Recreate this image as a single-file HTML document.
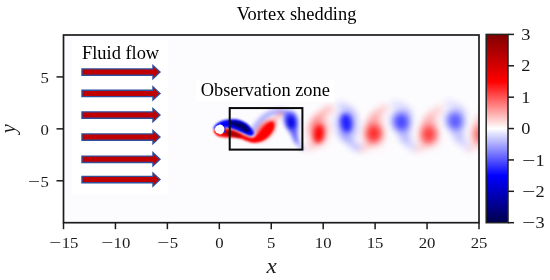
<!DOCTYPE html>
<html><head><meta charset="utf-8"><title>Vortex shedding</title>
<style>
html,body{margin:0;padding:0;background:#fff;}
svg{display:block}
text{font-family:"Liberation Serif","DejaVu Serif",serif;fill:#1a1a1a}
.tk{font-size:15.5px}
.ck{font-size:16px}
.lb{font-size:18.4px;fill:#000}
.ax{font-size:21px;font-style:italic}
</style></head><body>
<svg width="550" height="280" viewBox="0 0 550 280">
<defs>
<filter id="b0" filterUnits="userSpaceOnUse" x="-300" y="-300" width="1200" height="900"><feGaussianBlur stdDeviation="0.5"/></filter>
<filter id="b1" filterUnits="userSpaceOnUse" x="-300" y="-300" width="1200" height="900"><feGaussianBlur stdDeviation="0.9"/></filter>
<filter id="b2" filterUnits="userSpaceOnUse" x="-300" y="-300" width="1200" height="900"><feGaussianBlur stdDeviation="2.2"/></filter>
<filter id="b3" filterUnits="userSpaceOnUse" x="-300" y="-300" width="1200" height="900"><feGaussianBlur stdDeviation="3.5"/></filter>
<filter id="b25" filterUnits="userSpaceOnUse" x="-300" y="-300" width="1200" height="900"><feGaussianBlur stdDeviation="2.6"/></filter>
<filter id="b35" filterUnits="userSpaceOnUse" x="-300" y="-300" width="1200" height="900"><feGaussianBlur stdDeviation="3.6"/></filter>
<filter id="b4" filterUnits="userSpaceOnUse" x="-300" y="-300" width="1200" height="900"><feGaussianBlur stdDeviation="4.5"/></filter>
<clipPath id="rh"><rect x="219.3" y="120" width="10" height="20"/></clipPath>
<clipPath id="ax"><rect x="63.5" y="35.0" width="415.5" height="187.7"/></clipPath>
<linearGradient id="cb" x1="0" y1="0" x2="0" y2="1">
<stop offset="0" stop-color="#800000"/><stop offset="0.25" stop-color="#ff0000"/>
<stop offset="0.5" stop-color="#ffffff"/><stop offset="0.75" stop-color="#0000ff"/>
<stop offset="1" stop-color="#00004c"/></linearGradient>
</defs>
<rect width="550" height="280" fill="#ffffff"/>
<rect x="63.5" y="35.0" width="415.5" height="187.7" fill="#fcfbfe"/>
<g clip-path="url(#ax)">
<path d="M213.9 129.0 C212.8 128.3 214.5 126.1 215.4 125.0 C216.3 123.9 217.7 123.0 219.1 122.2 C220.5 121.4 222.3 120.8 224.0 120.3 C225.7 119.8 227.2 119.6 229.0 119.4 C230.8 119.2 233.2 119.2 235.0 119.3 C236.8 119.4 238.2 119.6 240.0 120.2 C241.8 120.8 244.1 121.8 246.0 123.1 C247.9 124.4 250.1 126.5 251.4 128.2 C252.7 129.9 254.2 132.2 254.0 133.5 C253.8 134.8 252.0 135.9 250.5 136.0 C249.0 136.1 246.9 134.8 245.0 134.0 C243.1 133.2 241.2 132.2 239.0 131.4 C236.8 130.6 234.2 129.6 232.0 129.0 C229.8 128.4 227.3 127.6 225.6 127.6 C223.9 127.6 223.9 128.8 222.0 129.0 C220.1 129.2 215.0 129.7 213.9 129.0Z" fill="#0000ff" opacity="1" filter="url(#b1)"/>
<path d="M229.0 121.8 C229.7 121.1 235.3 121.3 238.0 121.8 C240.7 122.2 243.0 123.1 245.0 124.5 C247.0 125.9 249.4 128.7 249.8 130.0 C250.2 131.3 249.0 132.6 247.5 132.5 C246.0 132.4 243.2 130.3 241.0 129.2 C238.8 128.1 236.0 127.2 234.0 126.0 C232.0 124.8 228.3 122.5 229.0 121.8Z" fill="#000068" opacity="1" filter="url(#b1)"/>
<path d="M213.9 130.0 C212.8 130.8 214.5 132.9 215.4 134.0 C216.3 135.1 217.5 135.9 219.1 136.5 C220.7 137.1 223.3 137.2 225.0 137.4 C226.7 137.6 227.3 137.4 229.0 137.4 C230.7 137.4 233.2 137.4 235.0 137.6 C236.8 137.8 238.5 138.2 240.0 138.6 C241.5 139.0 241.8 139.2 244.0 139.9 C246.2 140.6 250.3 142.5 253.0 142.8 C255.7 143.1 257.6 142.7 260.0 141.8 C262.4 140.9 265.5 138.9 267.5 137.2 C269.5 135.5 270.9 133.6 272.0 131.8 C273.1 130.0 273.9 128.0 274.0 126.4 C274.1 124.8 273.6 122.4 272.5 122.0 C271.4 121.6 269.1 122.8 267.5 123.8 C265.9 124.8 264.5 126.6 263.0 128.2 C261.5 129.8 260.3 132.0 258.6 133.6 C256.9 135.2 255.3 137.3 253.0 137.6 C250.7 137.9 247.3 136.3 245.0 135.4 C242.7 134.5 241.2 133.3 239.0 132.4 C236.8 131.5 234.2 130.4 232.0 129.8 C229.8 129.2 227.7 128.7 226.0 128.6 C224.3 128.5 224.0 129.3 222.0 129.5 C220.0 129.7 215.0 129.2 213.9 130.0Z" fill="#ff0000" opacity="1" filter="url(#b1)"/>
<path d="M225.5 131.2 C226.3 130.6 229.1 130.8 231.0 131.2 C232.9 131.6 235.2 132.5 237.0 133.4 C238.8 134.3 241.8 136.0 242.0 136.6 C242.2 137.2 239.8 137.3 238.0 137.2 C236.2 137.1 233.0 136.2 231.0 135.8 C229.0 135.4 226.9 135.3 226.0 134.5 C225.1 133.7 224.7 131.8 225.5 131.2Z" fill="#980000" opacity="0.9" filter="url(#b1)"/>
<path d="M252 133 C256 125 262 117.5 269 114 C275 111 282 110.5 288 113" fill="none" stroke="#0000ff" stroke-width="5" stroke-linecap="butt" opacity="0.33" filter="url(#b2)"/>
<path d="M273 124 C275 119 278 115 283 112" fill="none" stroke="#ff0000" stroke-width="5" stroke-linecap="butt" opacity="0.22" filter="url(#b2)"/>
<ellipse cx="265.5" cy="130.5" rx="12.5" ry="6.8" transform="rotate(-48 265.5 130.5)" fill="#ff0000" opacity="0.75" filter="url(#b2)"/>
<path d="M284.5 114.0 C285.4 112.5 287.4 111.8 289.0 111.5 C290.6 111.2 292.6 111.4 294.0 112.5 C295.4 113.6 296.8 115.9 297.5 118.0 C298.2 120.1 298.0 122.7 298.0 125.0 C298.0 127.3 297.5 129.7 297.5 132.0 C297.5 134.3 297.9 137.1 297.8 139.0 C297.7 140.9 297.5 143.0 297.0 143.5 C296.5 144.0 295.8 143.1 295.0 142.0 C294.2 140.9 293.4 138.8 292.5 137.0 C291.6 135.2 290.6 133.2 289.5 131.5 C288.4 129.8 286.9 128.3 286.0 126.5 C285.1 124.7 284.1 122.6 283.8 120.5 C283.6 118.4 283.6 115.5 284.5 114.0Z" fill="#0000ff" opacity="0.62" filter="url(#b2)"/>
<ellipse cx="291.2" cy="122.3" rx="3.9" ry="6.8" transform="rotate(-8 291.2 122.3)" fill="#0000e0" opacity="0.95" filter="url(#b2)"/>
<path d="M296.5 140 C298 144 300 147 303 150" fill="none" stroke="#0000ff" stroke-width="3.5" stroke-linecap="butt" opacity="0.3" filter="url(#b2)"/>
<ellipse cx="318.75" cy="133.75" rx="5.2" ry="9.2" transform="rotate(6 318.75 133.75)" fill="#ff0000" opacity="0.95" filter="url(#b25)"/>
<ellipse cx="318.45" cy="131.25" rx="9" ry="14" transform="rotate(8 318.45 131.25)" fill="#ff0000" opacity="0.38" filter="url(#b4)"/>
<path d="M332.25 107.75 C322.75 111.75 313.75 119.75 312.25 130.75" fill="none" stroke="#ff0000" stroke-width="6" stroke-linecap="butt" opacity="0.304" filter="url(#b3)"/>
<path d="M315.75 142.75 C313.75 145.75 309.75 148.25 305.75 149.25" fill="none" stroke="#ff0000" stroke-width="4" stroke-linecap="butt" opacity="0.22799999999999998" filter="url(#b3)"/>
<ellipse cx="346.25" cy="122.8" rx="5.8" ry="9.3" transform="rotate(-8 346.25 122.8)" fill="#0000ff" opacity="0.8" filter="url(#b25)"/>
<ellipse cx="346.75" cy="124.8" rx="10" ry="14.5" transform="rotate(-10 346.75 124.8)" fill="#0000ff" opacity="0.32000000000000006" filter="url(#b4)"/>
<path d="M342.25 130.8 C345.25 138.8 351.25 144.8 360.25 149.3" fill="none" stroke="#0000ff" stroke-width="6" stroke-linecap="butt" opacity="0.272" filter="url(#b3)"/>
<path d="M337.25 105.3 C344.25 104.8 352.25 108.8 354.25 118.8" fill="none" stroke="#0000ff" stroke-width="5" stroke-linecap="butt" opacity="0.20800000000000002" filter="url(#b3)"/>
<ellipse cx="373.75" cy="134" rx="7.6" ry="8.8" transform="rotate(5 373.75 134)" fill="#ff0000" opacity="0.76" filter="url(#b35)"/>
<ellipse cx="375.25" cy="125" rx="5.5" ry="11" transform="rotate(12 375.25 125)" fill="#ff0000" opacity="0.3192" filter="url(#b4)"/>
<ellipse cx="373.75" cy="136" rx="11" ry="11" transform="rotate(0 373.75 136)" fill="#ff0000" opacity="0.16720000000000002" filter="url(#b4)"/>
<path d="M387.25 107 C379.75 110 370.75 117 367.75 128" fill="none" stroke="#ff0000" stroke-width="6" stroke-linecap="butt" opacity="0.22799999999999998" filter="url(#b3)"/>
<path d="M369.75 143 C367.75 146 363.75 148.5 359.75 149.5" fill="none" stroke="#ff0000" stroke-width="5" stroke-linecap="butt" opacity="0.1976" filter="url(#b3)"/>
<ellipse cx="401.25" cy="121.5" rx="8.0" ry="9.0" transform="rotate(-5 401.25 121.5)" fill="#0000ff" opacity="0.63" filter="url(#b35)"/>
<ellipse cx="403.75" cy="131.0" rx="5.5" ry="11" transform="rotate(-14 403.75 131.0)" fill="#0000ff" opacity="0.2646" filter="url(#b4)"/>
<ellipse cx="401.25" cy="119.5" rx="11" ry="11" transform="rotate(0 401.25 119.5)" fill="#0000ff" opacity="0.1386" filter="url(#b4)"/>
<path d="M403.25 135.5 C405.25 140.5 409.25 145.5 415.25 148.5" fill="none" stroke="#0000ff" stroke-width="6" stroke-linecap="butt" opacity="0.189" filter="url(#b3)"/>
<path d="M391.25 104.0 C398.25 103.5 407.25 106.5 410.25 115.5" fill="none" stroke="#0000ff" stroke-width="5" stroke-linecap="butt" opacity="0.1512" filter="url(#b3)"/>
<ellipse cx="428.75" cy="135" rx="7.6" ry="8.8" transform="rotate(5 428.75 135)" fill="#ff0000" opacity="0.66" filter="url(#b35)"/>
<ellipse cx="430.25" cy="126" rx="5.5" ry="11" transform="rotate(12 430.25 126)" fill="#ff0000" opacity="0.2772" filter="url(#b4)"/>
<ellipse cx="428.75" cy="137" rx="11" ry="11" transform="rotate(0 428.75 137)" fill="#ff0000" opacity="0.1452" filter="url(#b4)"/>
<path d="M442.25 108 C434.75 111 425.75 118 422.75 129" fill="none" stroke="#ff0000" stroke-width="6" stroke-linecap="butt" opacity="0.198" filter="url(#b3)"/>
<path d="M424.75 144 C422.75 147 418.75 149.5 414.75 150.5" fill="none" stroke="#ff0000" stroke-width="5" stroke-linecap="butt" opacity="0.1716" filter="url(#b3)"/>
<ellipse cx="455" cy="120.5" rx="8.0" ry="9.0" transform="rotate(-5 455 120.5)" fill="#0000ff" opacity="0.54" filter="url(#b35)"/>
<ellipse cx="457.5" cy="130.0" rx="5.5" ry="11" transform="rotate(-14 457.5 130.0)" fill="#0000ff" opacity="0.2268" filter="url(#b4)"/>
<ellipse cx="455" cy="118.5" rx="11" ry="11" transform="rotate(0 455 118.5)" fill="#0000ff" opacity="0.1188" filter="url(#b4)"/>
<path d="M457 134.5 C459 139.5 463 144.5 469 147.5" fill="none" stroke="#0000ff" stroke-width="6" stroke-linecap="butt" opacity="0.162" filter="url(#b3)"/>
<path d="M445 103.0 C452 102.5 461 105.5 464 114.5" fill="none" stroke="#0000ff" stroke-width="5" stroke-linecap="butt" opacity="0.1296" filter="url(#b3)"/>
<ellipse cx="481" cy="135" rx="7.6" ry="8.8" transform="rotate(5 481 135)" fill="#ff0000" opacity="0.5" filter="url(#b35)"/>
<ellipse cx="482.5" cy="126" rx="5.5" ry="11" transform="rotate(12 482.5 126)" fill="#ff0000" opacity="0.21" filter="url(#b4)"/>
<ellipse cx="481" cy="137" rx="11" ry="11" transform="rotate(0 481 137)" fill="#ff0000" opacity="0.11" filter="url(#b4)"/>
<path d="M494.5 108 C487 111 478 118 475 129" fill="none" stroke="#ff0000" stroke-width="6" stroke-linecap="butt" opacity="0.15" filter="url(#b3)"/>
<path d="M477 144 C475 147 471 149.5 467 150.5" fill="none" stroke="#ff0000" stroke-width="5" stroke-linecap="butt" opacity="0.13" filter="url(#b3)"/>
<circle cx="219.31" cy="129.35" r="5.2" fill="#ffffff" clip-path="url(#rh)"/>
<circle cx="219.31" cy="129.35" r="4.4" fill="#ffffff"/>
<path d="M223.9 126.0 A5.7 5.7 0 0 1 223.9 132.8" fill="none" stroke="#2222f0" stroke-width="1.1" opacity="0.9"/>
</g>
<rect x="72" y="40" width="96" height="154" fill="#ffffff"/>
<rect x="196" y="80" width="138" height="22" fill="#ffffff"/>
<rect x="229.70" y="108.07" width="72.71" height="41.55" fill="none" stroke="#080808" stroke-width="2"/>
<path d="M82 68.89999999999999 L153 68.89999999999999 L153 65.5 L160 72.1 L153 78.69999999999999 L153 75.3 L82 75.3 Z" fill="#c00000" stroke="#2f4f9a" stroke-width="1.4" stroke-linejoin="miter"/>
<path d="M82 90.2 L153 90.2 L153 86.80000000000001 L160 93.4 L153 100.0 L153 96.60000000000001 L82 96.60000000000001 Z" fill="#c00000" stroke="#2f4f9a" stroke-width="1.4" stroke-linejoin="miter"/>
<path d="M82 111.89999999999999 L153 111.89999999999999 L153 108.5 L160 115.1 L153 121.69999999999999 L153 118.3 L82 118.3 Z" fill="#c00000" stroke="#2f4f9a" stroke-width="1.4" stroke-linejoin="miter"/>
<path d="M82 133.9 L153 133.9 L153 130.5 L160 137.1 L153 143.7 L153 140.29999999999998 L82 140.29999999999998 Z" fill="#c00000" stroke="#2f4f9a" stroke-width="1.4" stroke-linejoin="miter"/>
<path d="M82 156.10000000000002 L153 156.10000000000002 L153 152.70000000000002 L160 159.3 L153 165.9 L153 162.5 L82 162.5 Z" fill="#c00000" stroke="#2f4f9a" stroke-width="1.4" stroke-linejoin="miter"/>
<path d="M82 176.4 L153 176.4 L153 173.0 L160 179.6 L153 186.2 L153 182.79999999999998 L82 182.79999999999998 Z" fill="#c00000" stroke="#2f4f9a" stroke-width="1.4" stroke-linejoin="miter"/>

<text x="82" y="59" class="lb">Fluid flow</text>
<text x="200.7" y="96.2" class="lb">Observation zone</text>
<text x="296.5" y="20" text-anchor="middle" class="lb">Vortex shedding</text>
<rect x="63.5" y="35.0" width="415.5" height="187.7" fill="none" stroke="#1c1c1c" stroke-width="1.7"/>
<line x1="63.50" y1="222.7" x2="63.50" y2="229.2" stroke="#1c1c1c" stroke-width="1.5"/><text transform="translate(49.22 247.60) scale(1.38 1)" style="font-size:15.5px">−</text><text transform="translate(61.64 247.60) scale(1.08 1)" style="font-size:15.5px">15</text>
<line x1="115.44" y1="222.7" x2="115.44" y2="229.2" stroke="#1c1c1c" stroke-width="1.5"/><text transform="translate(101.16 247.60) scale(1.38 1)" style="font-size:15.5px">−</text><text transform="translate(113.58 247.60) scale(1.08 1)" style="font-size:15.5px">10</text>
<line x1="167.38" y1="222.7" x2="167.38" y2="229.2" stroke="#1c1c1c" stroke-width="1.5"/><text transform="translate(157.28 247.60) scale(1.38 1)" style="font-size:15.5px">−</text><text transform="translate(169.70 247.60) scale(1.08 1)" style="font-size:15.5px">5</text>
<line x1="219.31" y1="222.7" x2="219.31" y2="229.2" stroke="#1c1c1c" stroke-width="1.5"/><text transform="translate(215.13 247.60) scale(1.08 1)" style="font-size:15.5px">0</text>
<line x1="271.25" y1="222.7" x2="271.25" y2="229.2" stroke="#1c1c1c" stroke-width="1.5"/><text transform="translate(267.06 247.60) scale(1.08 1)" style="font-size:15.5px">5</text>
<line x1="323.19" y1="222.7" x2="323.19" y2="229.2" stroke="#1c1c1c" stroke-width="1.5"/><text transform="translate(314.82 247.60) scale(1.08 1)" style="font-size:15.5px">10</text>
<line x1="375.12" y1="222.7" x2="375.12" y2="229.2" stroke="#1c1c1c" stroke-width="1.5"/><text transform="translate(366.75 247.60) scale(1.08 1)" style="font-size:15.5px">15</text>
<line x1="427.06" y1="222.7" x2="427.06" y2="229.2" stroke="#1c1c1c" stroke-width="1.5"/><text transform="translate(418.69 247.60) scale(1.08 1)" style="font-size:15.5px">20</text>
<line x1="479.00" y1="222.7" x2="479.00" y2="229.2" stroke="#1c1c1c" stroke-width="1.5"/><text transform="translate(470.63 247.60) scale(1.08 1)" style="font-size:15.5px">25</text>
<line x1="56.5" y1="76.91" x2="63.5" y2="76.91" stroke="#1c1c1c" stroke-width="1.5"/><text transform="translate(40.43 83.11) scale(1.08 1)" style="font-size:15.5px">5</text>
<line x1="56.5" y1="128.85" x2="63.5" y2="128.85" stroke="#1c1c1c" stroke-width="1.5"/><text transform="translate(40.43 135.05) scale(1.08 1)" style="font-size:15.5px">0</text>
<line x1="56.5" y1="180.79" x2="63.5" y2="180.79" stroke="#1c1c1c" stroke-width="1.5"/><text transform="translate(28.01 186.99) scale(1.38 1)" style="font-size:15.5px">−</text><text transform="translate(40.43 186.99) scale(1.08 1)" style="font-size:15.5px">5</text>

<text transform="translate(271.6 273.4) scale(1.1 1)" text-anchor="middle" class="ax">x</text>
<text transform="translate(15.2 128.7) rotate(-90)" text-anchor="middle" class="ax" style="font-size:20.5px">y</text>
<rect x="486.2" y="34.4" width="21.80000000000001" height="188.29999999999998" fill="url(#cb)" stroke="#222" stroke-width="1.5"/>
<line x1="508.0" y1="34.40" x2="514.0" y2="34.40" stroke="#1c1c1c" stroke-width="1.5"/><text transform="translate(521.30 40.10) scale(1.08 1)" style="font-size:17px">3</text>
<line x1="508.0" y1="65.78" x2="514.0" y2="65.78" stroke="#1c1c1c" stroke-width="1.5"/><text transform="translate(521.30 71.48) scale(1.08 1)" style="font-size:17px">2</text>
<line x1="508.0" y1="97.17" x2="514.0" y2="97.17" stroke="#1c1c1c" stroke-width="1.5"/><text transform="translate(521.30 102.87) scale(1.08 1)" style="font-size:17px">1</text>
<line x1="508.0" y1="128.55" x2="514.0" y2="128.55" stroke="#1c1c1c" stroke-width="1.5"/><text transform="translate(521.30 134.25) scale(1.08 1)" style="font-size:17px">0</text>
<line x1="508.0" y1="159.93" x2="514.0" y2="159.93" stroke="#1c1c1c" stroke-width="1.5"/><text transform="translate(521.90 165.63) scale(1.38 1)" style="font-size:17px">−</text><text transform="translate(535.58 165.63) scale(1.08 1)" style="font-size:17px">1</text>
<line x1="508.0" y1="191.32" x2="514.0" y2="191.32" stroke="#1c1c1c" stroke-width="1.5"/><text transform="translate(521.90 197.02) scale(1.38 1)" style="font-size:17px">−</text><text transform="translate(535.58 197.02) scale(1.08 1)" style="font-size:17px">2</text>
<line x1="508.0" y1="222.70" x2="514.0" y2="222.70" stroke="#1c1c1c" stroke-width="1.5"/><text transform="translate(521.90 228.40) scale(1.38 1)" style="font-size:17px">−</text><text transform="translate(535.58 228.40) scale(1.08 1)" style="font-size:17px">3</text>

</svg>
</body></html>
